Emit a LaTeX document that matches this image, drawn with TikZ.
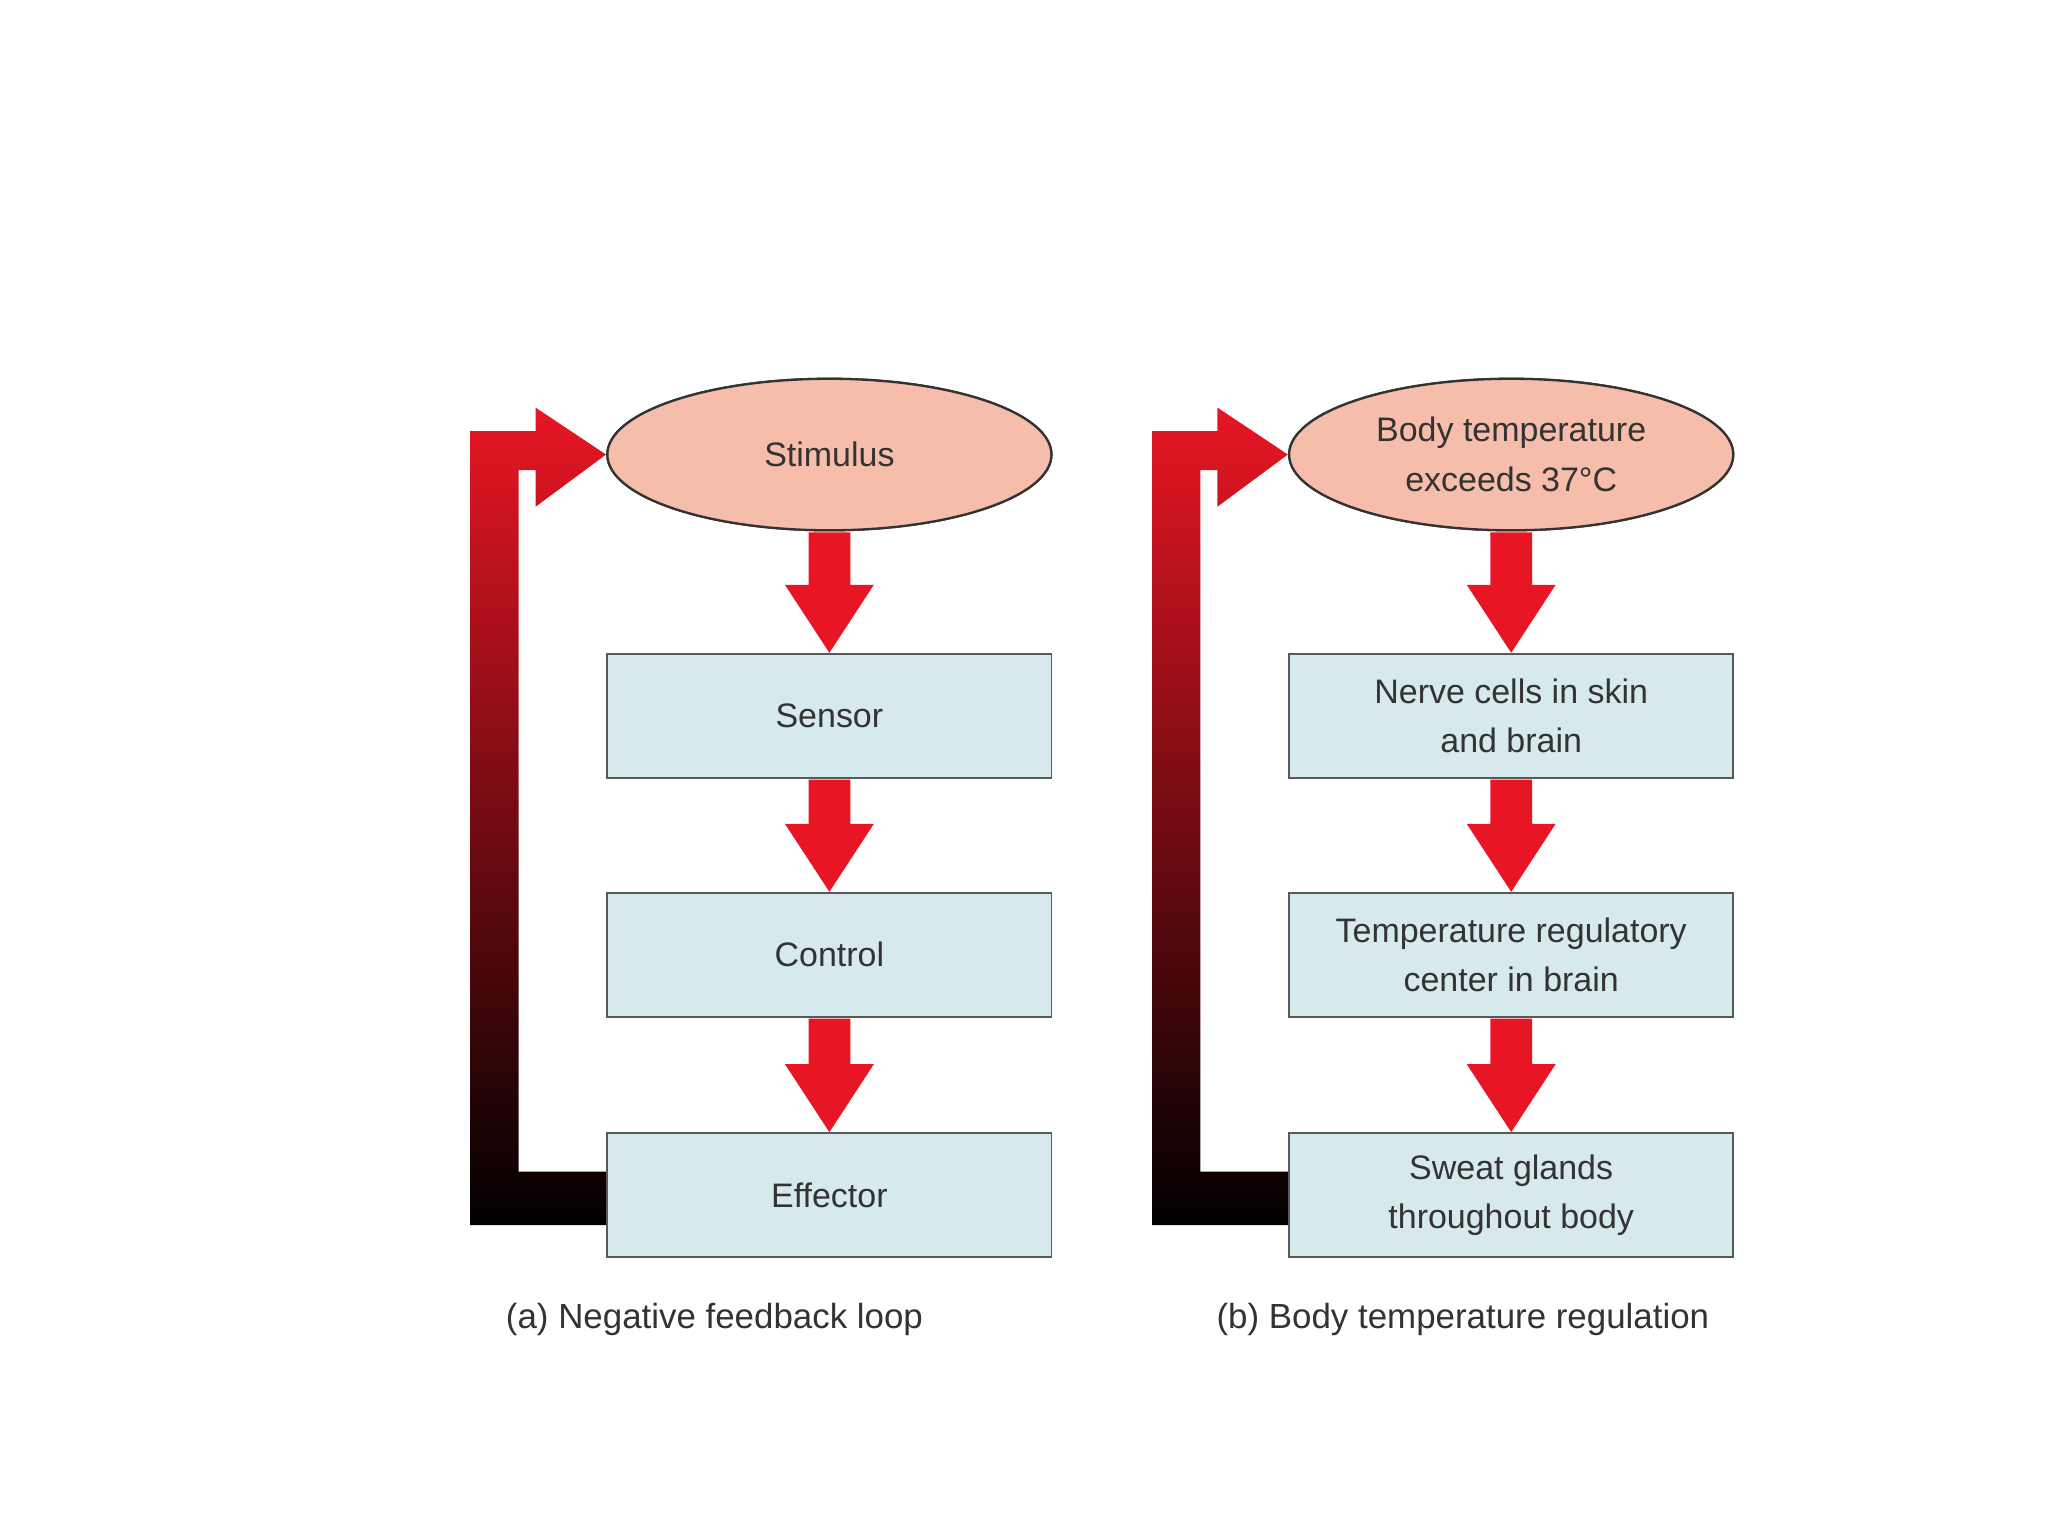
\documentclass[tikz,border=0pt]{standalone}
\usepackage{fontspec}
\setmainfont{Liberation Sans}
\usetikzlibrary{shapes.geometric,calc}
\definecolor{boxfill}{RGB}{214,234,238}
\definecolor{ellfill}{RGB}{246,190,170}
\definecolor{arrred}{RGB}{232,22,36}
\begin{document}
\begin{tikzpicture}[x=0.05cm,y=-0.05cm,
  txt/.style={font=\fontsize{37}{54}\selectfont,text=black!80,align=center},
  boxn/.style={txt,draw=gray!70!black,line width=2pt,fill=boxfill,minimum width=340*0.05cm,minimum height=95*0.05cm,inner sep=0pt},
  elln/.style={txt,ellipse,draw=black!80,line width=2.5pt,fill=ellfill,minimum width=340*0.05cm,minimum height=116*0.05cm,inner sep=0pt},
  captext/.style={font=\fontsize{38}{44}\selectfont,text=black!80}]
\useasboundingbox (0,0) rectangle (1568,1176);
\newcommand{\blockdown}[2]{%
  \fill[arrred] let \p1=(#1.south), \p2=(#2.north) in
   (\x1-16*0.05cm,\y1-1pt) -- (\x1+16*0.05cm,\y1-1pt) -- (\x1+16*0.05cm,\y2+52*0.05cm)
   -- (\x1+34*0.05cm,\y2+52*0.05cm) -- (\x2,\y2) -- (\x1-34*0.05cm,\y2+52*0.05cm)
   -- (\x1-16*0.05cm,\y2+52*0.05cm) -- cycle;}
\newcommand{\feedback}[1]{%
  \shade[top color=arrred,middle color=arrred!85!black,bottom color=black]
   (#1+360,938) -- (#1+360,330) -- (#1+410,330) -- (#1+410,312) -- (#1+464,348) -- (#1+410,388)
   -- (#1+410,360) -- (#1+397,360) -- (#1+397,897) -- (#1+466,897) -- (#1+466,938) -- cycle;}
\feedback{0}
\feedback{522}
\node[elln] (s1) at (635,348) {Stimulus};
\node[boxn] (a1) at (635,548) {Sensor};
\node[boxn] (a2) at (635,731) {Control};
\node[boxn] (a3) at (635,915) {Effector};
\node[elln] (s2) at (1157,348) {Body temperature\\exceeds 37°C};
\node[boxn] (b1) at (1157,548) {Nerve cells in skin\\and brain};
\node[boxn] (b2) at (1157,731) {Temperature regulatory\\center in brain};
\node[boxn] (b3) at (1157,915) {Sweat glands\\throughout body};
\blockdown{s1}{a1}\blockdown{a1}{a2}\blockdown{a2}{a3}
\blockdown{s2}{b1}\blockdown{b1}{b2}\blockdown{b2}{b3}
\node[elln] at (635,348) {Stimulus};
\node[elln] at (1157,348) {Body temperature\\exceeds 37°C};
\node[captext] (ca) at (547,1010) {(a) Negative feedback loop};
\node[captext] (cb) at (1120,1010) {(b) Body temperature regulation};
\end{tikzpicture}
\end{document}
